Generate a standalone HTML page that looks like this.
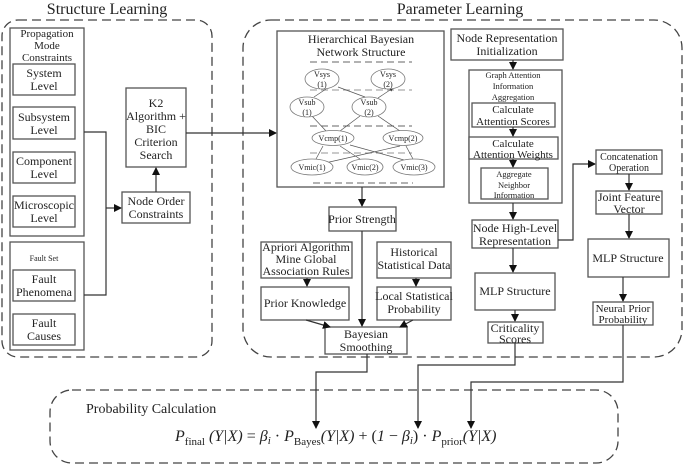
<!DOCTYPE html>
<html><head><meta charset="utf-8"><style>
html,body{margin:0;padding:0;background:#fff}
svg{display:block}
text{font-family:"Liberation Serif",serif;fill:#222}
.b{fill:#fff;stroke:#555;stroke-width:1.3}
.t{font-size:12px;text-anchor:middle}
.s{font-size:10px;text-anchor:middle}
.e{fill:#fff;stroke:#777;stroke-width:0.8}
.et{font-size:8px;text-anchor:middle}
.l{stroke:#333;stroke-width:1.2;fill:none}
.d{stroke:#444;stroke-width:1.3;fill:none;stroke-dasharray:9 5}
.dd{stroke:#666;stroke-width:1;stroke-dasharray:7 4}
.dg{stroke:#aaa;stroke-width:1.3;stroke-dasharray:7 4}
.a{stroke:#555;stroke-width:0.7;fill:none}
</style></head><body>
<svg width="685" height="466" viewBox="0 0 685 466" xmlns="http://www.w3.org/2000/svg">
<defs>
<marker id="ar" markerWidth="8" markerHeight="8" refX="7" refY="4" orient="auto" markerUnits="userSpaceOnUse"><path d="M0,0 L8,4 L0,8 z" fill="#111"/></marker>
<marker id="sm" markerWidth="4" markerHeight="4" refX="3.5" refY="2" orient="auto" markerUnits="userSpaceOnUse"><path d="M0,0 L4,2 L0,4 z" fill="#333"/></marker>
</defs>

<text x="107" y="14" style="font-size:16px;text-anchor:middle">Structure Learning</text>
<text x="460" y="14" style="font-size:16px;text-anchor:middle">Parameter Learning</text>

<rect class="d" x="2" y="20" width="210" height="337" rx="16"/>
<rect class="d" x="243" y="20" width="439" height="337" rx="28"/>

<!-- left -->
<rect class="b" x="10" y="28" width="74" height="208"/>
<text class="s" x="47" y="37" style="font-size:11px">Propagation</text>
<text class="s" x="47" y="49" style="font-size:11px">Mode</text>
<text class="s" x="47" y="61" style="font-size:11px">Constraints</text>
<rect class="b" x="13" y="64" width="62" height="31"/><text class="t" x="44" y="77">System</text><text class="t" x="44" y="90">Level</text>
<rect class="b" x="13" y="107" width="62" height="32"/><text class="t" x="44" y="121">Subsystem</text><text class="t" x="44" y="134">Level</text>
<rect class="b" x="13" y="152" width="62" height="31"/><text class="t" x="44" y="165">Component</text><text class="t" x="44" y="178">Level</text>
<rect class="b" x="13" y="196" width="62" height="31"/><text class="t" x="44" y="209">Microscopic</text><text class="t" x="44" y="222">Level</text>
<rect class="b" x="10" y="242" width="74" height="108"/>
<text class="s" x="44" y="261" style="font-size:8px">Fault Set</text>
<rect class="b" x="13" y="270" width="62" height="31"/><text class="t" x="44" y="283">Fault</text><text class="t" x="44" y="296">Phenomena</text>
<rect class="b" x="13" y="314" width="62" height="31"/><text class="t" x="44" y="327">Fault</text><text class="t" x="44" y="340">Causes</text>
<path class="l" d="M84,132 H106 V295 H84"/>
<path class="l" d="M106,208 H121" marker-end="url(#ar)"/>
<rect class="b" x="122" y="192" width="68" height="31"/><text class="t" x="156" y="205">Node Order</text><text class="t" x="156" y="218">Constraints</text>
<rect class="b" x="126" y="88" width="60" height="79"/>
<text class="t" x="156" y="107">K2</text><text class="t" x="156" y="120">Algorithm +</text><text class="t" x="156" y="133">BIC</text><text class="t" x="156" y="146">Criterion</text><text class="t" x="156" y="159">Search</text>
<path class="l" d="M156,192 V168" marker-end="url(#ar)"/>
<path class="l" d="M186,133 H276" marker-end="url(#ar)"/>

<!-- HBN -->
<rect class="b" x="277" y="31" width="167" height="156"/>
<text class="t" x="361" y="43">Hierarchical Bayesian</text>
<text class="t" x="361" y="56">Network Structure</text>
<line class="dd" x1="310" y1="62" x2="412" y2="62"/>
<line class="dg" x1="310" y1="90" x2="412" y2="90"/>
<line class="dd" x1="310" y1="126" x2="412" y2="126"/>
<line class="dg" x1="310" y1="153" x2="412" y2="153"/>
<line class="dd" x1="313" y1="183" x2="413" y2="183"/>
<path class="a" marker-end="url(#sm)" d="M316,159 L323,146 M325,163 L400,146 M360,159 L340,146 M404,160 L350,145 M413,159 L406,146 M326,131 L312,116 M340,131 L360,116 M400,131 L378,116 M314,97 L326,89 M365,97 L338,87 M378,98 L393,88"/>
<ellipse class="e" cx="322" cy="79" rx="17" ry="10"/><text class="et" x="322" y="77">Vsys</text><text class="et" x="322" y="87">(1)</text>
<ellipse class="e" cx="388" cy="79" rx="17" ry="10"/><text class="et" x="388" y="77">Vsys</text><text class="et" x="388" y="87">(2)</text>
<ellipse class="e" cx="307" cy="107" rx="17" ry="10"/><text class="et" x="307" y="105">Vsub</text><text class="et" x="307" y="115">(1)</text>
<ellipse class="e" cx="369" cy="107" rx="17" ry="10"/><text class="et" x="369" y="105">Vsub</text><text class="et" x="369" y="115">(2)</text>
<ellipse class="e" cx="333" cy="138" rx="21" ry="7.5"/><text class="et" x="333" y="141">Vcmp(1)</text>
<ellipse class="e" cx="403" cy="138" rx="20" ry="7.5"/><text class="et" x="403" y="141">Vcmp(2)</text>
<ellipse class="e" cx="312" cy="167" rx="21" ry="8"/><text class="et" x="312" y="170">Vmic(1)</text>
<ellipse class="e" cx="365" cy="167" rx="18" ry="8"/><text class="et" x="365" y="170">Vmic(2)</text>
<ellipse class="e" cx="414" cy="167" rx="21" ry="8"/><text class="et" x="414" y="170">Vmic(3)</text>

<path class="l" d="M362,187 V206" marker-end="url(#ar)"/>
<rect class="b" x="329" y="207" width="67" height="24"/><text class="t" x="362" y="223">Prior Strength</text>
<rect class="b" x="261" y="242" width="91" height="36"/><text class="t" x="306" y="251">Apriori Algorithm</text><text class="t" x="306" y="263">Mine Global</text><text class="t" x="306" y="275">Association Rules</text>
<rect class="b" x="261" y="287" width="88" height="33"/><text class="t" x="305" y="307">Prior Knowledge</text>
<rect class="b" x="377" y="242" width="74" height="36"/><text class="t" x="414" y="256">Historical</text><text class="t" x="414" y="269">Statistical Data</text>
<rect class="b" x="377" y="287" width="74" height="33"/><text class="t" x="414" y="300">Local Statistical</text><text class="t" x="414" y="313">Probability</text>
<path class="l" d="M307,278 V286" marker-end="url(#ar)"/>
<path class="l" d="M416,278 V286" marker-end="url(#ar)"/>
<rect class="b" x="325" y="327" width="82" height="27"/><text class="t" x="366" y="338">Bayesian</text><text class="t" x="366" y="351">Smoothing</text>
<path class="l" d="M362,231 V326" marker-end="url(#ar)"/>
<path class="l" d="M306,320 L330,327" marker-end="url(#ar)"/>
<path class="l" d="M413,320 L400,327" marker-end="url(#ar)"/>

<!-- right -->
<rect class="b" x="451" y="29" width="112" height="31"/><text class="t" x="507" y="42">Node Representation</text><text class="t" x="507" y="55">Initialization</text>
<path class="l" d="M513,60 V69" marker-end="url(#ar)"/>
<rect class="b" x="469" y="70" width="93" height="133"/>
<text class="s" x="513" y="78" style="font-size:8.5px">Graph Attention</text>
<text class="s" x="513" y="89" style="font-size:8.5px">Information</text>
<text class="s" x="513" y="100" style="font-size:8.5px">Aggregation</text>
<rect class="b" x="472" y="103" width="83" height="24"/><text class="t" x="513" y="113" style="font-size:11px">Calculate</text><text class="t" x="513" y="125" style="font-size:11px">Attention Scores</text>
<path class="l" d="M513,127 V136" marker-end="url(#ar)"/>
<rect class="b" x="469" y="137" width="89" height="22"/><text class="t" x="513" y="147" style="font-size:11px">Calculate</text><text class="t" x="513" y="158" style="font-size:11px">Attention Weights</text>
<path class="l" d="M513,159 V167" marker-end="url(#ar)"/>
<rect class="b" x="481" y="168" width="67" height="31"/><text class="s" x="514" y="177" style="font-size:8.5px">Aggregate</text><text class="s" x="514" y="188" style="font-size:8.5px">Neighbor</text><text class="s" x="514" y="198" style="font-size:8.5px">Information</text>
<path class="l" d="M513,203 V219" marker-end="url(#ar)"/>
<rect class="b" x="472" y="220" width="86" height="28"/><text class="t" x="515" y="232">Node High-Level</text><text class="t" x="515" y="245">Representation</text>
<path class="l" d="M513,248 V272" marker-end="url(#ar)"/>
<rect class="b" x="475" y="273" width="80" height="37"/><text class="t" x="515" y="295">MLP Structure</text>
<path class="l" d="M515,310 V321" marker-end="url(#ar)"/>
<rect class="b" x="488" y="322" width="55" height="21"/><text class="t" x="515" y="332">Criticality</text><text class="t" x="515" y="343">Scores</text>
<path class="l" d="M558,240 H573 V164 H595" marker-end="url(#ar)"/>
<rect class="b" x="596" y="150" width="66" height="24"/><text class="s" x="629" y="160">Concatenation</text><text class="s" x="629" y="171">Operation</text>
<path class="l" d="M629,174 V190" marker-end="url(#ar)"/>
<rect class="b" x="596" y="191" width="66" height="23"/><text class="t" x="629" y="201">Joint Feature</text><text class="t" x="629" y="213">Vector</text>
<path class="l" d="M629,214 V238" marker-end="url(#ar)"/>
<rect class="b" x="588" y="239" width="81" height="38"/><text class="t" x="628" y="262">MLP Structure</text>
<path class="l" d="M623,277 V301" marker-end="url(#ar)"/>
<rect class="b" x="593" y="302" width="60" height="23"/><text class="s" x="623" y="312" style="font-size:11px">Neural Prior</text><text class="s" x="623" y="323" style="font-size:11px">Probability</text>

<!-- bottom -->
<rect class="d" x="50" y="390" width="568" height="73" rx="22"/>
<text x="86" y="413" style="font-size:14px">Probability Calculation</text>
<path class="l" d="M367,354 V372 H316 V428" marker-end="url(#ar)"/>
<path class="l" d="M515,343 V365 H418 V428" marker-end="url(#ar)"/>
<path class="l" d="M623,325 V382 H471 V428" marker-end="url(#ar)"/>
<text x="175" y="441" style="font-size:16px;font-style:italic">P<tspan style="font-size:11px;font-style:normal" dy="4">final</tspan><tspan dy="-4"> (Y|X) </tspan><tspan style="font-style:normal">= </tspan>β<tspan style="font-size:11px" dy="3">i</tspan><tspan dy="-3" style="font-style:normal"> · </tspan>P<tspan style="font-size:11px;font-style:normal" dy="4">Bayes</tspan><tspan dy="-4">(Y|X)</tspan><tspan style="font-style:normal"> + (</tspan>1<tspan style="font-style:normal"> − </tspan>β<tspan style="font-size:11px" dy="3">i</tspan><tspan dy="-3" style="font-style:normal">) · </tspan>P<tspan style="font-size:11px;font-style:normal" dy="4">prior</tspan><tspan dy="-4">(Y|X)</tspan></text>
</svg>
</body></html>
